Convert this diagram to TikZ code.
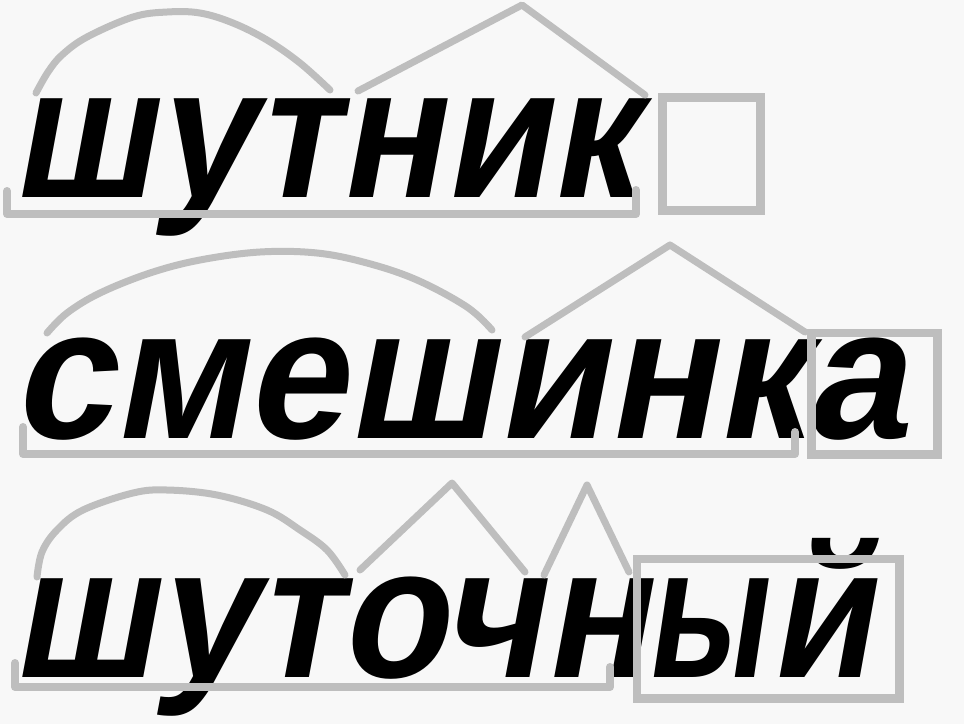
\documentclass[tikz,border=0pt]{standalone}
\usepackage{fontspec}
\setmainfont{Liberation Sans}
\newfontfamily\wordfam[FakeSlant=0.2]{Liberation Sans}
\definecolor{mgray}{RGB}{190,190,190}
\definecolor{bgc}{RGB}{248,248,248}
\newcommand\wordfont{\fontsize{187}{187}\selectfont\wordfam\bfseries}
\begin{document}
\begin{tikzpicture}[x=1pt,y=-1pt,
  morph/.style={draw=mgray, line width=7pt, line cap=round, line join=round},
  endbox/.style={draw=mgray, line width=8.5pt},
  stemline/.style={draw=mgray, line width=8pt, line cap=round, line join=round},
  word/.style={anchor=base west, inner sep=0pt, font=\wordfont, text=black}]
\fill[bgc] (0,0) rectangle (964,724);
\useasboundingbox (0,0) rectangle (964,724);

% words
\node[word] (w1) at (9.8,197) {\scalebox{0.926}[1]{шутник}};
\node[word] (w2) at (11.4,438) {\scalebox{0.963}[1]{смешинка}};
\node[word] (w3) at (9.8,677) {\scalebox{0.935}[1]{шуточн}};
\node[word] (w3y) at (644,677) {\scalebox{0.75}[1]{ы}};
\node[word, anchor=base east] (w3j) at (872,677) {\scalebox{0.9}[1]{й}};

% row 1: шут-ник-[ ]
\draw[morph] plot[smooth, tension=0.6] coordinates {(36,93) (48,72) (62,55) (87,37) (133,17) (167,12) (200,13) (233,23) (267,40) (300,63) (330,90)};
\draw[morph] (358,91) -- (522,5) -- (645,95);
\draw[endbox] (662.5,97.5) rectangle (760.5,210.5);
\draw[stemline] (7,191) -- (7,214) -- (636,214) -- (636,190);

% row 2: смеш-инк-а
\draw[morph] plot[smooth, tension=0.6] coordinates {(47,333) (67,313) (100,293) (150,273) (200,260) (260,252) (317,253) (367,263) (417,280) (467,307) (492,330)};
\draw[morph] (525,337) -- (670,245) -- (805,332);
\draw[endbox] (811.5,333) rectangle (937.5,454.5);
\draw[stemline] (23,427) -- (23,454) -- (795,454) -- (795,432);

% row 3: шут-оч-н-ый
\draw[morph] plot[smooth, tension=0.6] coordinates {(37,577) (42,552) (57,530) (83,510) (133,493) (167,490) (217,495) (267,510) (300,530) (327,550) (345,575)};
\draw[morph] (360,570) -- (452,483) -- (525,572);
\draw[morph] (544,575) -- (587,485) -- (629,572);
\draw[endbox] (637,559) rectangle (899.5,698.5);
\draw[stemline] (15,663) -- (15,687) -- (610,687) -- (610,667);
\end{tikzpicture}
\end{document}
